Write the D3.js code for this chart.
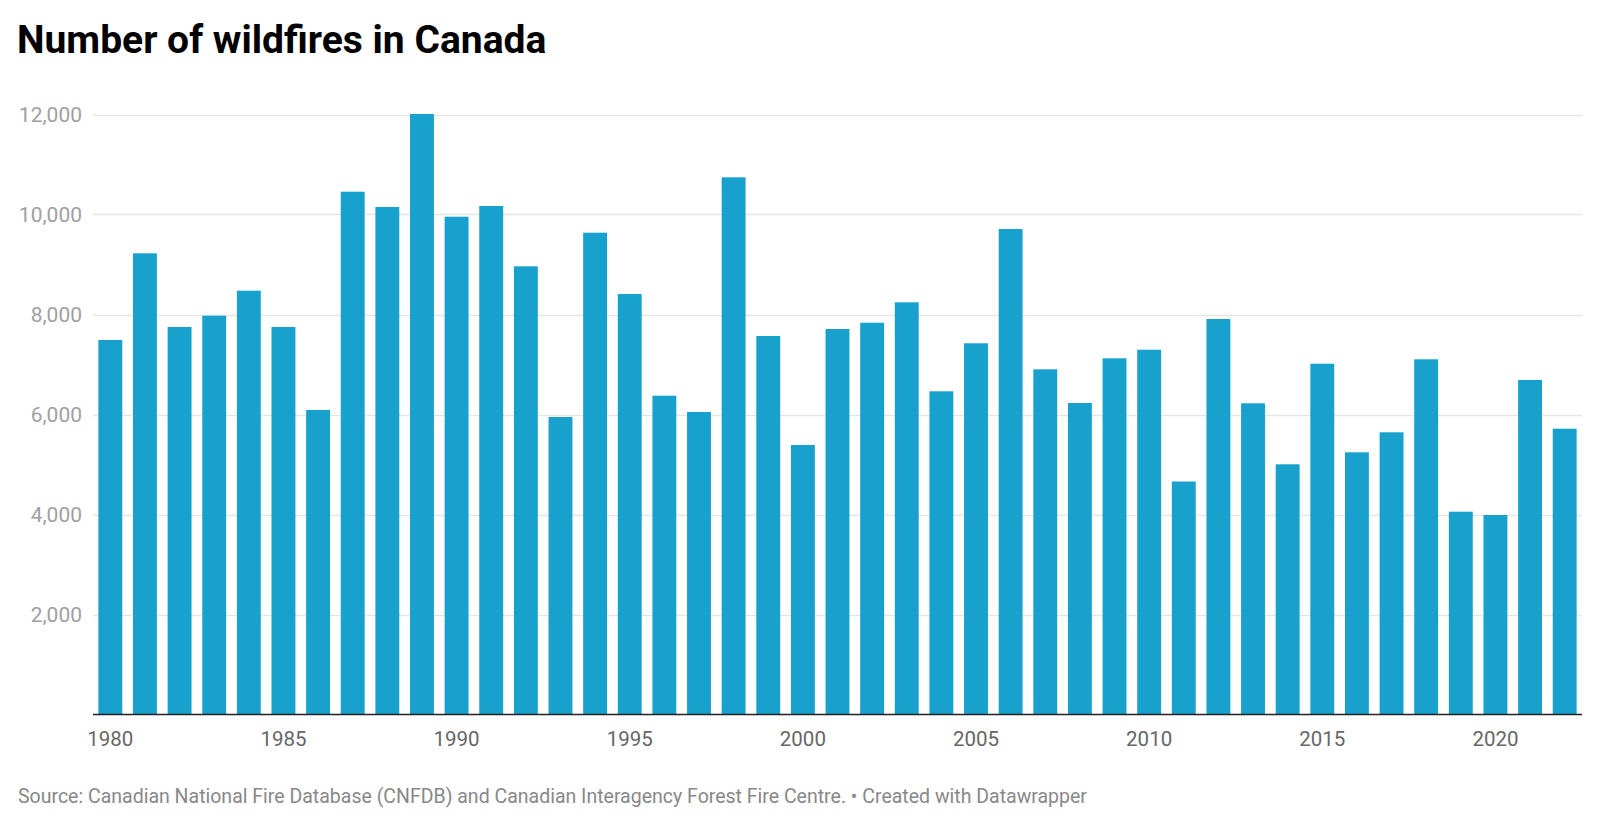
<!DOCTYPE html>
<html>
<head>
<meta charset="utf-8">
<script src="https://cdn.jsdelivr.net/npm/d3@7"></script>
<style>
    body { margin: 0; background: #fff; font-family: Roboto, "Noto Sans", sans-serif; }
</style>
</head>
<body>
<script>
// number of wildfires per year
var years = [1980, 1981, 1982, 1983, 1984, 1985, 1986, 1987, 1988, 1989,
    1990, 1991, 1992, 1993, 1994, 1995, 1996, 1997, 1998, 1999,
    2000, 2001, 2002, 2003, 2004, 2005, 2006, 2007, 2008, 2009,
    2010, 2011, 2012, 2013, 2014, 2015, 2016, 2017, 2018, 2019,
    2020, 2021, 2022];
var fires = [7490, 9224, 7750, 7976, 8476, 7750, 6090, 10456, 10150, 12010,
    9956, 10170, 8964, 5950, 9636, 8410, 6376, 6050, 10744, 7570,
    5390, 7710, 7836, 8244, 6464, 7424, 9710, 6904, 6230, 7124,
    7296, 4660, 7910, 6224, 5004, 7016, 5244, 5644, 7104, 4056,
    3990, 6690, 5716];
var yTicks = [2000, 4000, 6000, 8000, 10000, 12000];
var xTicks = [1980, 1985, 1990, 1995, 2000, 2005, 2010, 2015, 2020];

var title = "Number of wildfires in Canada";
var source = "Source: Canadian National Fire Database (CNFDB) and Canadian Interagency Forest Fire Centre. • Created with Datawrapper";

var W = 1600, H = 827;
var margin = { top: 114.5, right: 18, bottom: 112.5, left: 93 };

var svg = d3.select("body").append("svg")
    .attr("width", W)
    .attr("height", H);

var x = d3.scaleBand()
    .domain(years)
    .range([margin.left, W - margin.right])
    .paddingInner(0.31)
    .paddingOuter(0.155);

var y = d3.scaleLinear()
    .domain([0, 12000])
    .range([H - margin.bottom, margin.top]);

// title
svg.append("text")
    .attr("x", 17)
    .attr("y", 53)
    .style("font-size", "39px")
    .style("font-weight", "700")
    .style("fill", "#000")
    .text(title);

// gridlines
svg.append("g")
    .selectAll("line")
    .data(yTicks)
    .enter().append("line")
    .attr("x1", margin.left)
    .attr("x2", W - margin.right)
    .attr("y1", function (d) { return Math.round(y(d)) + 0.5; })
    .attr("y2", function (d) { return Math.round(y(d)) + 0.5; })
    .attr("stroke", "#e6e6e6")
    .attr("stroke-width", 1.5);

// y labels
svg.append("g")
    .selectAll("text")
    .data(yTicks)
    .enter().append("text")
    .attr("x", 82)
    .attr("y", function (d) { return y(d); })
    .attr("dy", "0.35em")
    .attr("text-anchor", "end")
    .style("font-size", "21px")
    .style("fill", "#a0a0a0")
    .text(d3.format(","));

// bars
svg.append("g")
    .selectAll("rect")
    .data(years)
    .enter().append("rect")
    .attr("x", function (d) { return x(d); })
    .attr("width", x.bandwidth())
    .attr("y", function (d, i) { return y(fires[i]); })
    .attr("height", function (d, i) { return y(0) - y(fires[i]); })
    .attr("fill", "#18a1cd");

// baseline
svg.append("line")
    .attr("x1", margin.left)
    .attr("x2", W - margin.right)
    .attr("y1", y(0))
    .attr("y2", y(0))
    .attr("stroke", "#222")
    .attr("stroke-width", 1.5);

// x labels
svg.append("g")
    .selectAll("text")
    .data(xTicks)
    .enter().append("text")
    .attr("x", function (d) { return x(d) + x.bandwidth() / 2; })
    .attr("y", y(0) + 31)
    .attr("text-anchor", "middle")
    .style("font-size", "20.5px")
    .style("fill", "#666")
    .text(function (d) { return d; });

// source
svg.append("text")
    .attr("x", 18)
    .attr("y", 803)
    .style("font-size", "19.5px")
    .style("fill", "#888")
    .text(source);
</script>
</body>
</html>
